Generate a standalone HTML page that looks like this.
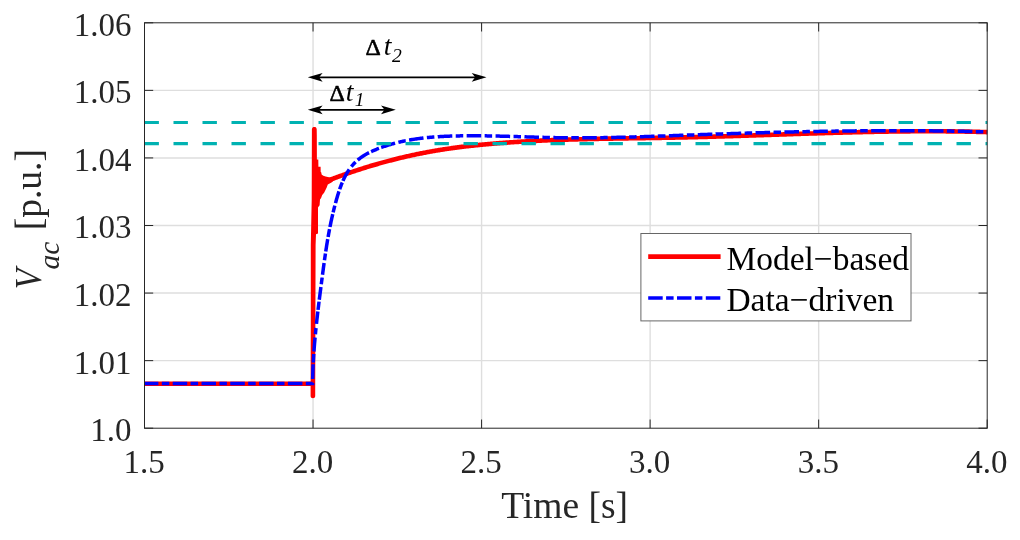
<!DOCTYPE html>
<html><head><meta charset="utf-8"><style>
html,body{margin:0;padding:0;background:#fff;}
body{width:1020px;height:540px;overflow:hidden;}
svg{display:block;}
text{font-family:"Liberation Serif","Times New Roman",serif;}
</style></head><body>
<svg width="1020" height="540" viewBox="0 0 1020 540">
<rect width="1020" height="540" fill="#fff"/>
<path d="M313.04,22.8V428.2M481.58,22.8V428.2M650.12,22.8V428.2M818.66,22.8V428.2M144.5,360.63H987.2M144.5,293.07H987.2M144.5,225.5H987.2M144.5,157.93H987.2M144.5,90.37H987.2" stroke="#dedede" stroke-width="1.4" fill="none"/>
<g fill="none" stroke-linejoin="round">
<path d="M144.5,383.7H313" stroke="#f00" stroke-width="4.6"/>
<path d="M311.9,129.3L312.08,128.38L312.6,127.6L313.38,127.08L314.3,126.9L315.22,127.08L316,127.6L316.52,128.38L316.7,129.3L316.8,135L316.9,159.4L318.3,159.5L318.4,166.7L320.6,166.8L320.7,172L321.3,172.4L321.6,174.6L323.3,175.7L325.6,176.4L330,177.6L334,177.9L334,180.3L331.5,182.4L327.8,184.6L326.7,187.6L325.6,189.8L324.1,192.7L322.2,195L321.1,197.9L320,199.4L319.6,205.3L318.5,206.8L318,207.6L318,233.5L316,234.2L315.6,245L315.4,315L315.2,396L315.2,396L315.02,396.88L314.53,397.63L313.78,398.12L312.9,398.3L312.02,398.12L311.27,397.63L310.78,396.88L310.6,396L310.6,396L310.8,315L310.8,245L311.7,200L311.9,129.3Z" fill="#f00" stroke="none"/>
<path d="M326.1,181.28L326.99,180.94L327.88,180.6L328.77,180.26L329.67,179.92L330.56,179.58L331.45,179.24L332.34,178.91L333.24,178.58L334.13,178.24L335.03,177.91L335.92,177.58L336.82,177.25L337.72,176.93L338.61,176.6L339.51,176.28L340.41,175.95L341.31,175.63L342.21,175.31L343.1,174.99L344,174.67L344.9,174.36L345.81,174.04L346.71,173.73L347.61,173.42L348.51,173.11L349.41,172.8L350.32,172.49L351.22,172.18L352.12,171.88L353.03,171.57L353.93,171.27L354.84,170.97L355.75,170.67L356.65,170.37L357.56,170.07L358.47,169.78L359.37,169.48L360.28,169.19L361.19,168.9L362.1,168.61L363.01,168.32L363.92,168.04L364.83,167.75L365.74,167.47L366.65,167.18L367.56,166.9L368.48,166.62L369.39,166.35L370.3,166.07L371.21,165.8L372.13,165.52L373.04,165.25L373.96,164.98L374.87,164.71L375.79,164.45L376.7,164.18L377.62,163.92L378.54,163.66L379.45,163.39L380.37,163.14L381.29,162.88L382.21,162.62L383.13,162.37L384.05,162.12L384.97,161.87L385.89,161.62L386.81,161.37L387.73,161.12L388.65,160.88L389.57,160.64L390.49,160.4L391.42,160.16L392.34,159.92L393.26,159.68L394.19,159.45L395.11,159.21L396.04,158.98L396.96,158.75L397.89,158.53L398.81,158.3L399.74,158.08L400.66,157.85L401.59,157.63L402.52,157.41L403.44,157.19L404.37,156.98L405.3,156.76L406.23,156.55L407.16,156.34L408.09,156.13L409.02,155.92L409.95,155.71L410.88,155.51L411.81,155.31L412.74,155.1L413.67,154.9L414.6,154.71L415.53,154.51L416.46,154.32L417.4,154.12L418.33,153.93L419.26,153.74L420.2,153.55L421.13,153.37L422.06,153.18L423,153L423.93,152.82L424.87,152.64L425.8,152.46L426.74,152.28L427.68,152.1L428.61,151.93L429.55,151.76L430.49,151.59L431.42,151.42L432.36,151.25L433.3,151.09L434.24,150.93L435.17,150.76L436.11,150.6L437.05,150.45L437.99,150.29L438.93,150.13L439.87,149.98L440.81,149.83L441.75,149.68L442.69,149.53L443.63,149.38L444.57,149.24L445.51,149.09L446.45,148.95L447.39,148.81L448.34,148.67L449.28,148.54L450.22,148.4L451.16,148.27L452.11,148.13L453.05,148L453.99,147.87L454.94,147.75L455.88,147.62L456.82,147.5L457.77,147.37L458.71,147.25L459.66,147.13L460.6,147.01L461.54,146.89L462.49,146.78L463.44,146.66L464.38,146.55L465.33,146.44L466.27,146.33L467.22,146.22L468.16,146.11L469.11,146L470.06,145.9L471,145.79L471.95,145.69L472.9,145.59L473.84,145.48L474.79,145.38L475.74,145.29L476.68,145.19L477.63,145.09L478.58,145L479.53,144.9L480.47,144.81L481.42,144.72L482.37,144.63L483.32,144.54L484.27,144.45L485.21,144.36L486.16,144.27L487.11,144.19L488.06,144.1L489.01,144.02L489.96,143.94L490.91,143.85L491.85,143.77L492.8,143.69L493.75,143.61L494.7,143.53L495.65,143.46L496.6,143.38L497.55,143.3L498.5,143.23L499.45,143.15L500.4,143.08L501.35,143.01L502.3,142.94L503.25,142.86L504.2,142.79L505.14,142.72L506.09,142.66L507.04,142.59L507.99,142.52L508.94,142.45L509.89,142.39L510.84,142.32L511.79,142.26L512.74,142.19L513.69,142.13L514.64,142.07L515.6,142.01L516.55,141.95L517.5,141.89L518.45,141.83L519.4,141.77L520.35,141.71L521.3,141.66L522.25,141.6L523.2,141.54L524.15,141.49L525.1,141.44L526.05,141.38L527,141.33L527.95,141.28L528.91,141.23L529.86,141.17L530.81,141.12L531.76,141.07L532.71,141.03L533.66,140.98L534.61,140.93L535.56,140.88L536.51,140.84L537.47,140.79L538.42,140.74L539.37,140.7L540.32,140.65L541.27,140.61L542.22,140.57L543.18,140.53L544.13,140.48L545.08,140.44L546.03,140.4L546.98,140.36L547.94,140.32L548.89,140.28L549.84,140.24L550.79,140.21L551.74,140.17L552.7,140.13L553.65,140.09L554.6,140.06L555.55,140.02L556.5,139.99L557.46,139.95L558.41,139.92L559.36,139.89L560.31,139.85L561.27,139.82L562.22,139.79L563.17,139.76L564.12,139.72L565.08,139.69L566.03,139.66L566.98,139.63L567.93,139.6L568.89,139.57L569.84,139.54L570.79,139.52L571.74,139.49L572.7,139.46L573.65,139.43L574.6,139.41L575.56,139.38L576.51,139.35L577.46,139.33L578.42,139.3L579.37,139.28L580.32,139.25L581.27,139.23L582.23,139.2L583.18,139.18L584.13,139.16L585.09,139.13L586.04,139.11L586.99,139.09L587.95,139.07L588.9,139.05L589.85,139.02L590.81,139L591.76,138.98L592.71,138.96L593.67,138.94L594.62,138.92L595.57,138.9L596.53,138.88L597.48,138.86L598.43,138.84L599.39,138.82L600.34,138.8L601.29,138.79L602.25,138.77L603.2,138.75L604.15,138.73L605.11,138.71L606.06,138.7L607.01,138.68L607.97,138.66L608.92,138.65L609.87,138.63L610.83,138.61L611.78,138.6L612.74,138.58L613.69,138.56L614.64,138.55L615.6,138.53L616.55,138.52L617.5,138.5L618.46,138.49L619.41,138.47L620.37,138.45L621.32,138.44L622.27,138.42L623.23,138.41L624.18,138.39L625.13,138.38L626.09,138.37L627.04,138.35L628,138.34L628.95,138.32L629.9,138.31L630.86,138.29L631.81,138.28L632.76,138.26L633.72,138.25L634.67,138.24L635.63,138.22L636.58,138.21L637.53,138.19L638.49,138.18L639.44,138.17L640.39,138.15L641.35,138.14L642.3,138.12L643.26,138.11L644.21,138.09L645.16,138.08L646.12,138.07L647.07,138.05L648.02,138.04L648.98,138.02L649.93,138.01L650.89,137.99L651.84,137.98L652.79,137.96L653.75,137.95L654.7,137.93L655.65,137.92L656.61,137.9L657.56,137.89L658.51,137.87L659.47,137.86L660.42,137.84L661.38,137.83L662.33,137.81L663.28,137.79L664.24,137.78L665.19,137.76L666.14,137.75L667.1,137.73L668.05,137.71L669,137.69L669.96,137.68L670.91,137.66L671.86,137.64L672.82,137.62L673.77,137.61L674.72,137.59L675.68,137.57L676.63,137.55L677.58,137.53L678.54,137.51L679.49,137.49L680.44,137.47L681.4,137.45L682.35,137.43L683.3,137.41L684.26,137.39L685.21,137.37L686.16,137.35L687.12,137.33L688.07,137.31L689.02,137.29L689.98,137.27L690.93,137.24L691.88,137.22L692.84,137.2L693.79,137.17L694.74,137.15L695.7,137.13L696.65,137.11L697.6,137.08L698.55,137.06L699.51,137.03L700.46,137.01L701.41,136.98L702.37,136.96L703.32,136.94L704.27,136.91L705.22,136.88L706.18,136.86L707.13,136.83L708.08,136.81L709.04,136.78L709.99,136.76L710.94,136.73L711.89,136.7L712.85,136.68L713.8,136.65L714.75,136.62L715.7,136.6L716.66,136.57L717.61,136.54L718.56,136.51L719.52,136.49L720.47,136.46L721.42,136.43L722.37,136.4L723.33,136.37L724.28,136.35L725.23,136.32L726.18,136.29L727.14,136.26L728.09,136.23L729.04,136.2L729.99,136.17L730.95,136.14L731.9,136.11L732.85,136.08L733.8,136.05L734.76,136.02L735.71,135.99L736.66,135.96L737.61,135.93L738.57,135.9L739.52,135.87L740.47,135.84L741.42,135.81L742.37,135.78L743.33,135.75L744.28,135.72L745.23,135.69L746.18,135.66L747.14,135.63L748.09,135.6L749.04,135.57L749.99,135.54L750.95,135.5L751.9,135.47L752.85,135.44L753.8,135.41L754.75,135.38L755.71,135.35L756.66,135.32L757.61,135.28L758.56,135.25L759.52,135.22L760.47,135.19L761.42,135.16L762.37,135.13L763.32,135.09L764.28,135.06L765.23,135.03L766.18,135L767.13,134.97L768.09,134.93L769.04,134.9L769.99,134.87L770.94,134.84L771.89,134.81L772.85,134.77L773.8,134.74L774.75,134.71L775.7,134.68L776.65,134.65L777.61,134.61L778.56,134.58L779.51,134.55L780.46,134.52L781.41,134.49L782.37,134.45L783.32,134.42L784.27,134.39L785.22,134.36L786.17,134.33L787.13,134.29L788.08,134.26L789.03,134.23L789.98,134.2L790.94,134.17L791.89,134.13L792.84,134.1L793.79,134.07L794.74,134.04L795.7,134.01L796.65,133.98L797.6,133.95L798.55,133.91L799.5,133.88L800.46,133.85L801.41,133.82L802.36,133.79L803.31,133.76L804.26,133.73L805.22,133.7L806.17,133.67L807.12,133.63L808.07,133.6L809.02,133.57L809.98,133.54L810.93,133.51L811.88,133.48L812.83,133.45L813.78,133.42L814.74,133.39L815.69,133.36L816.64,133.33L817.59,133.3L818.54,133.27L819.5,133.24L820.45,133.21L821.4,133.19L822.35,133.16L823.3,133.13L824.26,133.1L825.21,133.07L826.16,133.04L827.11,133.01L828.06,132.98L829.02,132.96L829.97,132.93L830.92,132.9L831.87,132.87L832.83,132.84L833.78,132.82L834.73,132.79L835.68,132.76L836.63,132.74L837.59,132.71L838.54,132.68L839.49,132.66L840.44,132.63L841.39,132.6L842.35,132.58L843.3,132.55L844.25,132.53L845.2,132.5L846.15,132.48L847.11,132.45L848.06,132.43L849.01,132.4L849.96,132.38L850.92,132.35L851.87,132.33L852.82,132.3L853.77,132.28L854.72,132.26L855.68,132.23L856.63,132.21L857.58,132.19L858.53,132.16L859.49,132.14L860.44,132.12L861.39,132.1L862.34,132.08L863.3,132.05L864.25,132.03L865.2,132.01L866.15,131.99L867.1,131.97L868.06,131.95L869.01,131.93L869.96,131.91L870.91,131.89L871.87,131.87L872.82,131.85L873.77,131.83L874.72,131.81L875.68,131.8L876.63,131.78L877.58,131.76L878.53,131.74L879.49,131.73L880.44,131.71L881.39,131.69L882.34,131.67L883.3,131.66L884.25,131.64L885.2,131.63L886.15,131.61L887.11,131.6L888.06,131.58L889.01,131.57L889.96,131.55L890.92,131.54L891.87,131.53L892.82,131.51L893.77,131.5L894.73,131.49L895.68,131.47L896.63,131.46L897.59,131.45L898.54,131.44L899.49,131.43L900.44,131.42L901.4,131.41L902.35,131.4L903.3,131.39L904.26,131.38L905.21,131.37L906.16,131.36L907.11,131.35L908.07,131.34L909.02,131.34L909.97,131.33L910.93,131.32L911.88,131.31L912.83,131.31L913.78,131.3L914.74,131.3L915.69,131.29L916.64,131.29L917.6,131.28L918.55,131.28L919.5,131.27L920.46,131.27L921.41,131.27L922.36,131.27L923.32,131.26L924.27,131.26L925.22,131.26L926.18,131.26L927.13,131.26L928.08,131.26L929.04,131.26L929.99,131.26L930.94,131.26L931.9,131.26L932.85,131.26L933.8,131.26L934.76,131.27L935.71,131.27L936.66,131.27L937.62,131.28L938.57,131.28L939.52,131.29L940.48,131.29L941.43,131.3L942.38,131.3L943.34,131.31L944.29,131.32L945.25,131.32L946.2,131.33L947.15,131.34L948.11,131.35L949.06,131.36L950.01,131.37L950.97,131.38L951.92,131.39L952.88,131.4L953.83,131.41L954.78,131.42L955.74,131.43L956.69,131.45L957.64,131.46L958.6,131.47L959.55,131.49L960.51,131.5L961.46,131.52L962.42,131.53L963.37,131.55L964.32,131.57L965.28,131.58L966.23,131.6L967.19,131.62L968.14,131.64L969.09,131.66L970.05,131.68L971,131.7L971.96,131.72L972.91,131.74L973.87,131.76L974.82,131.78L975.78,131.8L976.73,131.83L977.68,131.85L978.64,131.88L979.59,131.9L980.55,131.93L981.5,131.95L982.46,131.98L983.41,132.01L984.37,132.03L985.32,132.06L986.28,132.09L987.23,132.12" stroke="#f00" stroke-width="4.6"/>
<path d="M144.5,383.5L158.4,383.5M161.8,383.5L169.3,383.5M172.7,383.5L187.2,383.5M190.6,383.5L198.1,383.5M201.5,383.5L216,383.5M219.4,383.5L226.9,383.5M230.3,383.5L244.8,383.5M248.2,383.5L255.7,383.5M259.1,383.5L273.6,383.5M277,383.5L284.5,383.5M287.9,383.5L302.4,383.5M305.8,383.5L312.6,383.5L312.6,382.8M312.66,379L312.67,378.44L312.69,377.72L312.7,377L312.72,376.29L312.74,375.57L312.76,374.85L312.78,374.13L312.8,373.41L312.82,372.69L312.84,371.97L312.87,371.25L312.9,370.54L312.92,369.82L312.95,369.1L312.98,368.38L313.01,367.66L313.04,366.94L313.07,366.22L313.11,365.5L313.14,364.78L313.16,364.3M313.26,362.5L313.29,361.9L313.33,361.18L313.37,360.46L313.41,359.74L313.45,359.02L313.49,358.3L313.54,357.58L313.58,356.86L313.63,356.14L313.67,355.42L313.72,354.7L313.77,354M313.94,351.5L313.97,351.1L314.02,350.38L314.07,349.66L314.13,348.94L314.18,348.22L314.24,347.5L314.3,346.78L314.35,346.06L314.41,345.33L314.47,344.61L314.53,343.89L314.59,343.17L314.65,342.45L314.71,341.73L314.77,341.01L314.84,340.29L314.9,339.57L314.97,338.85L315.03,338.13L315.09,337.5M315.4,334.2L315.44,333.81L315.51,333.09L315.58,332.36L315.65,331.64L315.72,330.92L315.79,330.2L315.86,329.48L315.94,328.76L316.01,328.04L316.02,328M316.45,323.9L316.47,323.72L316.55,323L316.62,322.28L316.7,321.56L316.78,320.84L316.86,320.12L316.94,319.4L317.02,318.68L317.1,317.96L317.19,317.24L317.27,316.52L317.35,315.8L317.43,315.08L317.52,314.36L317.6,313.64L317.68,312.92L317.77,312.2L317.85,311.5M318.04,309.9L318.11,309.33L318.2,308.61L318.28,307.89L318.37,307.17L318.46,306.45L318.55,305.73L318.63,305.02L318.72,304.3L318.81,303.58L318.9,302.86L318.99,302.14L319.06,301.6M319.28,299.8L319.35,299.27L319.44,298.55L319.53,297.83L319.62,297.12L319.71,296.4L319.8,295.68L319.89,294.97L319.98,294.25L320.07,293.53L320.17,292.81L320.26,292.1L320.35,291.38L320.44,290.66L320.53,289.95L320.63,289.23L320.72,288.52L320.81,287.8L320.91,287.08L320.92,287M321.28,284.2L321.37,283.51L321.46,282.79L321.56,282.08L321.65,281.36L321.74,280.65L321.84,279.93L321.93,279.22L322.02,278.5L322.12,277.79L322.15,277.5M322.52,274.7L322.58,274.22L322.68,273.51L322.77,272.79L322.87,272.08L322.96,271.37L323.06,270.66L323.15,269.94L323.25,269.23L323.34,268.52L323.44,267.81L323.53,267.09L323.63,266.38L323.73,265.67L323.82,264.96L323.92,264.25L324.02,263.53L324.09,263M324.47,260.3L324.51,259.98L324.61,259.27L324.72,258.56L324.82,257.85L324.92,257.13L325.02,256.42L325.12,255.71L325.23,255L325.33,254.29L325.43,253.6M325.76,251.4L325.86,250.74L325.97,250.03L326.08,249.32L326.19,248.61L326.3,247.91L326.41,247.2L326.52,246.49L326.63,245.78L326.75,245.07L326.86,244.36L326.98,243.65L327.09,242.94L327.21,242.23L327.33,241.52L327.44,240.82L327.56,240.11L327.68,239.4L327.74,239.1M328.1,237L328.18,236.57L328.3,235.86L328.43,235.15L328.55,234.44L328.68,233.73L328.81,233.03L328.94,232.32L329.07,231.61L329.21,230.9L329.34,230.2L329.48,229.49L329.55,229.1M329.96,227L330.03,226.66L330.17,225.95L330.31,225.24L330.46,224.54L330.6,223.83L330.75,223.12L330.89,222.41L331.04,221.71L331.19,221L331.35,220.29L331.5,219.59L331.65,218.88L331.81,218.17L331.97,217.47L332.13,216.76L332.29,216.05L332.45,215.35L332.61,214.64L332.74,214.1M333.14,212.4L333.28,211.81L333.45,211.11L333.62,210.4L333.8,209.69L333.97,208.99L334.15,208.28L334.33,207.57L334.51,206.87L334.69,206.16L334.84,205.6M335.5,203.1L335.63,202.63L335.83,201.92L336.02,201.21L336.22,200.51L336.42,199.8L336.62,199.1L336.82,198.39L337.02,197.68L337.23,196.98L337.44,196.27L337.65,195.57L337.86,194.86L338.08,194.16L338.3,193.46L338.52,192.75L338.75,192.05L338.96,191.4M339.67,189.3L339.68,189.27L339.92,188.57L340.16,187.88L340.41,187.19L340.67,186.51L340.92,185.82L341.18,185.14L341.45,184.46L341.72,183.78L341.99,183.11L342.25,182.5M342.94,180.9L343.14,180.45L343.44,179.79L343.74,179.13L344.05,178.48L344.36,177.84L344.68,177.19L345.01,176.55L345.34,175.92L345.68,175.29L346.02,174.66L346.37,174.04L346.73,173.43L347.09,172.81L347.46,172.21L347.83,171.61L348.21,171.01L348.6,170.42L349,169.83L349.3,169.4M351.34,166.67L351.53,166.44L351.97,165.89L352.43,165.36L352.89,164.82L353.37,164.3L353.85,163.78L354.33,163.27L354.83,162.77L355.33,162.27L355.55,162.06M357.74,160.09L357.96,159.89L358.51,159.44L359.06,158.99L359.63,158.55L360.19,158.11L360.77,157.69L361.35,157.27L361.93,156.86L362.53,156.45L363.12,156.06L363.73,155.67L364.34,155.29L364.95,154.91L365.58,154.55L366.2,154.19L366.83,153.84L367.47,153.49L368.11,153.15L368.75,152.82L369.02,152.69M371.09,151.68L371.36,151.56L372.02,151.25L372.69,150.96L373.35,150.66L374.02,150.37L374.68,150.09L375.35,149.81L376.02,149.53L376.69,149.25L377.36,148.98L378.03,148.72L378.71,148.45L378.99,148.35M381.2,147.51L381.41,147.44L382.09,147.19L382.77,146.95L383.44,146.71L384.13,146.47L384.81,146.24L385.49,146.01L386.17,145.79L386.86,145.57L387.54,145.35L388.23,145.13L388.92,144.92L389.6,144.71L390.29,144.51L390.98,144.3L391.67,144.11L392.36,143.91L393.05,143.72L393.75,143.53L394.44,143.34L395.08,143.17M398.4,142.33L398.61,142.28L399.31,142.11L400.01,141.95L400.71,141.79L401.41,141.63L402.11,141.48L402.82,141.33L403.52,141.18L404.22,141.03L404.93,140.89L405.63,140.74L405.72,140.73M409.09,140.09L409.16,140.08L409.87,139.95L410.58,139.83L411.29,139.71L412,139.59L412.71,139.47L413.42,139.36L414.13,139.24L414.84,139.14L415.55,139.03L416.27,138.92L416.98,138.82L417.69,138.72L418.41,138.62L419.12,138.53L419.84,138.43L420.55,138.34L421.27,138.25L421.98,138.17L422.7,138.08L423.42,138L423.49,137.99M426.89,137.62L427.01,137.61L427.73,137.54L428.45,137.47L429.17,137.4L429.89,137.34L430.61,137.27L431.33,137.21L432.05,137.15L432.77,137.09L433.49,137.03L434.22,136.98L434.36,136.97M437.78,136.73L437.83,136.72L438.55,136.68L439.27,136.63L440,136.59L440.72,136.55L441.45,136.51L442.17,136.47L442.89,136.43L443.62,136.39L444.34,136.36L445.07,136.33L445.79,136.29L446.52,136.26L447.24,136.23L447.97,136.2L448.69,136.18L449.42,136.15L450.14,136.12L450.87,136.1L451.59,136.08L452.31,136.06M455.73,135.96L455.94,135.96L456.67,135.94L457.39,135.93L458.12,135.91L458.84,135.9L459.57,135.89L460.29,135.87L461.02,135.86L461.74,135.85L462.47,135.84L463.19,135.83L463.23,135.83M466.66,135.8L466.81,135.8L467.54,135.79L468.26,135.79L468.98,135.78L469.71,135.78L470.43,135.78L471.15,135.78L471.88,135.77L472.6,135.77L473.33,135.77L474.05,135.78L474.77,135.78L475.5,135.78L476.22,135.78L476.94,135.78L477.66,135.79L478.39,135.79L479.11,135.8L479.83,135.8L480.56,135.81L481.21,135.81M484.63,135.85L484.89,135.85L485.61,135.86L486.34,135.87L487.06,135.88L487.78,135.89L488.5,135.91L489.23,135.92L489.95,135.93L490.67,135.94L491.39,135.95L492.11,135.97L492.13,135.97M495.56,136.04L495.72,136.04L496.45,136.06L497.17,136.07L497.89,136.09L498.61,136.1L499.33,136.12L500.05,136.14L500.78,136.15L501.5,136.17L502.22,136.19L502.94,136.21L503.66,136.23L504.38,136.24L505.1,136.26L505.82,136.28L506.55,136.3L507.27,136.32L507.99,136.34L508.71,136.36L509.43,136.38L510.11,136.4M513.52,136.5L513.76,136.5L514.48,136.52L515.2,136.55L515.92,136.57L516.64,136.59L517.36,136.61L518.08,136.63L518.8,136.65L519.52,136.67L520.24,136.7L520.96,136.72L521.02,136.72M524.45,136.82L524.57,136.83L525.29,136.85L526.01,136.87L526.73,136.89L527.45,136.91L528.17,136.93L528.89,136.96L529.61,136.98L530.33,137L531.05,137.02L531.77,137.04L532.49,137.06L533.21,137.08L533.94,137.1L534.66,137.13L535.38,137.15L536.1,137.17L536.82,137.19L537.54,137.21L538.26,137.23L538.98,137.25L538.99,137.25M542.41,137.34L542.58,137.34L543.3,137.36L544.02,137.38L544.74,137.4L545.46,137.42L546.18,137.43L546.9,137.45L547.63,137.47L548.35,137.48L549.07,137.5L549.79,137.52L549.91,137.52M553.34,137.59L553.39,137.59L554.11,137.61L554.83,137.62L555.55,137.63L556.27,137.64L556.99,137.66L557.71,137.67L558.43,137.68L559.16,137.69L559.88,137.7L560.6,137.71L561.32,137.72L562.04,137.73L562.76,137.74L563.48,137.75L564.2,137.76L564.92,137.77L565.64,137.77L566.36,137.78L567.09,137.79L567.81,137.79L567.89,137.79M571.31,137.82L571.41,137.82L572.13,137.82L572.85,137.82L573.58,137.83L574.3,137.83L575.02,137.83L575.74,137.83L576.46,137.83L577.18,137.83L577.9,137.83L578.62,137.83L578.81,137.83M582.24,137.83L582.95,137.83L583.67,137.82L584.4,137.82L585.12,137.82L585.84,137.81L586.56,137.81L587.28,137.81L588,137.8L588.72,137.8L589.45,137.79L590.17,137.78L590.89,137.78L591.61,137.77L592.33,137.77L593.05,137.76L593.78,137.75L594.5,137.74L595.22,137.74L595.94,137.73L596.66,137.72L596.79,137.72M600.21,137.67L600.27,137.67L600.99,137.66L601.71,137.65L602.44,137.64L603.16,137.63L603.88,137.62L604.6,137.61L605.32,137.59L606.05,137.58L606.77,137.57L607.49,137.56L607.71,137.55M611.13,137.49L611.82,137.47L612.54,137.46L613.26,137.44L613.99,137.43L614.71,137.41L615.43,137.4L616.15,137.38L616.87,137.36L617.6,137.35L618.32,137.33L619.04,137.31L619.76,137.3L620.48,137.28L621.21,137.26L621.93,137.25L622.65,137.23L623.37,137.21L624.09,137.19L624.82,137.17L625.54,137.15L625.68,137.15M629.1,137.06L629.15,137.06L629.87,137.04L630.59,137.02L631.32,137L632.04,136.98L632.76,136.96L633.48,136.93L634.2,136.91L634.93,136.89L635.65,136.87L636.37,136.85L636.6,136.84M640.03,136.74L640.7,136.72L641.43,136.7L642.15,136.67L642.87,136.65L643.59,136.63L644.32,136.6L645.04,136.58L645.76,136.56L646.48,136.53L647.2,136.51L647.93,136.49L648.65,136.46L649.37,136.44L650.09,136.41L650.82,136.39L651.54,136.37L652.26,136.34L652.98,136.32L653.7,136.29L654.43,136.27L654.57,136.26M657.99,136.15L658.04,136.14L658.76,136.12L659.48,136.09L660.2,136.07L660.93,136.04L661.65,136.02L662.37,135.99L663.09,135.97L663.82,135.94L664.54,135.92L665.26,135.89L665.48,135.88M668.91,135.76L669.59,135.73L670.32,135.71L671.04,135.68L671.76,135.66L672.48,135.63L673.2,135.6L673.93,135.58L674.65,135.55L675.37,135.53L676.09,135.5L676.82,135.47L677.54,135.45L678.26,135.42L678.98,135.4L679.7,135.37L680.43,135.34L681.15,135.32L681.87,135.29L682.59,135.26L683.32,135.24L683.45,135.23M686.87,135.11L686.93,135.11L687.65,135.08L688.37,135.06L689.09,135.03L689.81,135L690.54,134.98L691.26,134.95L691.98,134.93L692.7,134.9L693.42,134.88L694.15,134.85L694.36,134.84M697.79,134.72L698.48,134.7L699.2,134.67L699.92,134.65L700.64,134.62L701.37,134.6L702.09,134.57L702.81,134.55L703.53,134.52L704.25,134.5L704.98,134.47L705.7,134.45L706.42,134.42L707.14,134.4L707.86,134.37L708.59,134.35L709.31,134.32L710.03,134.3L710.75,134.27L711.47,134.25L712.2,134.22L712.33,134.22M715.75,134.11L715.8,134.1L716.53,134.08L717.25,134.06L717.97,134.03L718.69,134.01L719.41,133.98L720.14,133.96L720.86,133.94L721.58,133.91L722.3,133.89L723.02,133.87L723.25,133.86M726.67,133.75L727.35,133.72L728.08,133.7L728.8,133.68L729.52,133.66L730.24,133.63L730.96,133.61L731.68,133.59L732.41,133.56L733.13,133.54L733.85,133.52L734.57,133.5L735.29,133.47L736.01,133.45L736.74,133.43L737.46,133.41L738.18,133.38L738.9,133.36L739.62,133.34L740.34,133.32L741.07,133.3L741.22,133.29M744.63,133.19L744.68,133.19L745.4,133.16L746.12,133.14L746.84,133.12L747.56,133.1L748.28,133.08L749.01,133.06L749.73,133.04L750.45,133.02L751.17,132.99L751.89,132.97L752.13,132.97M755.56,132.87L756.22,132.85L756.94,132.83L757.66,132.81L758.39,132.79L759.11,132.77L759.83,132.75L760.55,132.73L761.27,132.71L761.99,132.69L762.72,132.67L763.44,132.65L764.16,132.63L764.88,132.61L765.6,132.59L766.32,132.57L767.05,132.55L767.77,132.53L768.49,132.51L769.21,132.49L769.93,132.47L770.1,132.47M773.52,132.38L773.54,132.38L774.26,132.36L774.98,132.34L775.7,132.32L776.43,132.31L777.15,132.29L777.87,132.27L778.59,132.25L779.31,132.23L780.03,132.21L780.75,132.2L781.02,132.19M784.45,132.11L785.08,132.09L785.81,132.07L786.53,132.06L787.25,132.04L787.97,132.02L788.69,132.01L789.41,131.99L790.13,131.97L790.86,131.96L791.58,131.94L792.3,131.92L793.02,131.91L793.74,131.89L794.46,131.87L795.19,131.86L795.91,131.84L796.63,131.83L797.35,131.81L798.07,131.8L798.79,131.78L799,131.78M802.42,131.7L803.12,131.69L803.84,131.67L804.56,131.66L805.29,131.64L806.01,131.63L806.73,131.61L807.45,131.6L808.17,131.59L808.89,131.57L809.62,131.56L809.91,131.55M813.34,131.49L813.94,131.47L814.67,131.46L815.39,131.45L816.11,131.43L816.83,131.42L817.55,131.41L818.27,131.39L819,131.38L819.72,131.37L820.44,131.36L821.16,131.34L821.88,131.33L822.6,131.32L823.32,131.31L824.05,131.3L824.77,131.28L825.49,131.27L826.21,131.26L826.93,131.25L827.65,131.24L827.89,131.23M831.31,131.18L831.98,131.17L832.7,131.16L833.43,131.15L834.15,131.14L834.87,131.13L835.59,131.12L836.31,131.11L837.03,131.1L837.76,131.09L838.48,131.08L838.81,131.07M842.24,131.03L842.81,131.02L843.53,131.01L844.25,131L844.97,130.99L845.69,130.98L846.41,130.97L847.14,130.97L847.86,130.96L848.58,130.95L849.3,130.94L850.02,130.93L850.74,130.92L851.47,130.92L852.19,130.91L852.91,130.9L853.63,130.89L854.35,130.89L855.07,130.88L855.79,130.87L856.52,130.87L856.79,130.86M860.21,130.83L860.85,130.83L861.57,130.82L862.29,130.81L863.01,130.81L863.73,130.8L864.45,130.8L865.18,130.79L865.9,130.79L866.62,130.78L867.34,130.77L867.71,130.77M871.14,130.75L871.67,130.75L872.39,130.74L873.11,130.74L873.84,130.73L874.56,130.73L875.28,130.73L876,130.72L876.72,130.72L877.44,130.72L878.17,130.71L878.89,130.71L879.61,130.71L880.33,130.7L881.05,130.7L881.78,130.7L882.5,130.7L883.22,130.69L883.94,130.69L884.66,130.69L885.38,130.69L885.69,130.69M889.11,130.68L889.72,130.68L890.44,130.68L891.16,130.68L891.88,130.68L892.6,130.68L893.32,130.68L894.05,130.68L894.77,130.68L895.49,130.68L896.21,130.68L896.61,130.68M900.04,130.68L900.54,130.68L901.26,130.68L901.99,130.68L902.71,130.68L903.43,130.69L904.15,130.69L904.87,130.69L905.6,130.69L906.32,130.69L907.04,130.7L907.76,130.7L908.48,130.7L909.21,130.7L909.93,130.71L910.65,130.71L911.37,130.71L912.09,130.72L912.82,130.72L913.54,130.72L914.26,130.73L914.59,130.73M918.01,130.75L918.59,130.75L919.31,130.76L920.04,130.76L920.76,130.77L921.48,130.77L922.2,130.78L922.93,130.78L923.65,130.79L924.37,130.79L925.09,130.8L925.51,130.8M928.94,130.84L929.42,130.84L930.15,130.85L930.87,130.85L931.59,130.86L932.31,130.87L933.04,130.88L933.76,130.89L934.48,130.89L935.2,130.9L935.92,130.91L936.65,130.92L937.37,130.93L938.09,130.94L938.81,130.94L939.54,130.95L940.26,130.96L940.98,130.97L941.7,130.98L942.43,130.99L943.15,131L943.49,131.01M946.91,131.06L947.48,131.07L948.2,131.08L948.93,131.09L949.65,131.1L950.37,131.11L951.09,131.12L951.82,131.13L952.54,131.15L953.26,131.16L953.98,131.17L954.41,131.18M957.83,131.24L958.32,131.25L959.04,131.26L959.76,131.28L960.49,131.29L961.21,131.31L961.93,131.32L962.65,131.33L963.38,131.35L964.1,131.36L964.82,131.38L965.54,131.39L966.27,131.41L966.99,131.42L967.71,131.44L968.43,131.46L969.16,131.47L969.88,131.49L970.6,131.5L971.33,131.52L972.05,131.54L972.38,131.55M975.8,131.63L976.38,131.64L977.11,131.66L977.83,131.68L978.55,131.7L979.28,131.71L980,131.73L980.72,131.75L981.44,131.77L982.17,131.79L982.89,131.81L983.3,131.82M986.73,131.92L987.23,131.93" stroke="#00f" stroke-width="3.5" stroke-linejoin="miter"/>
<path d="M144.5,122.55H987.2M144.5,143.65H987.2" stroke="#00b2b2" stroke-width="3.1" stroke-dasharray="14.4 14.6"/>
</g>
<g stroke="#262626" stroke-width="1" fill="none">
<path d="M144.5,428.2V419.5M144.5,22.8V31.5M313.04,428.2V419.5M313.04,22.8V31.5M481.58,428.2V419.5M481.58,22.8V31.5M650.12,428.2V419.5M650.12,22.8V31.5M818.66,428.2V419.5M818.66,22.8V31.5M987.2,428.2V419.5M987.2,22.8V31.5M144.5,428.2H153.2M987.2,428.2H978.5M144.5,360.63H153.2M987.2,360.63H978.5M144.5,293.07H153.2M987.2,293.07H978.5M144.5,225.5H153.2M987.2,225.5H978.5M144.5,157.93H153.2M987.2,157.93H978.5M144.5,90.37H153.2M987.2,90.37H978.5M144.5,22.8H153.2M987.2,22.8H978.5"/>
<rect x="144.5" y="22.8" width="842.7" height="405.4"/>
</g>
<path d="M316.8,77.3H477.5" stroke="#000" stroke-width="1.7" fill="none"/><path d="M307.8,77.3L322.6,72.9L319.1,77.3L322.6,81.7ZM486.5,77.3L471.7,72.9L475.2,77.3L471.7,81.7Z" fill="#000"/><path d="M316.8,109.8H386.8" stroke="#000" stroke-width="1.7" fill="none"/><path d="M307.8,109.8L322.6,105.4L319.1,109.8L322.6,114.2ZM395.8,109.8L381,105.4L384.5,109.8L381,114.2Z" fill="#000"/>
<g font-size="34.2" fill="#262626"><text transform="translate(131.5,441.1) scale(0.965,1)" text-anchor="end">1.0</text><text transform="translate(131.5,373.53) scale(0.965,1)" text-anchor="end">1.01</text><text transform="translate(131.5,305.97) scale(0.965,1)" text-anchor="end">1.02</text><text transform="translate(131.5,238.4) scale(0.965,1)" text-anchor="end">1.03</text><text transform="translate(131.5,170.83) scale(0.965,1)" text-anchor="end">1.04</text><text transform="translate(131.5,103.27) scale(0.965,1)" text-anchor="end">1.05</text><text transform="translate(131.5,35.7) scale(0.965,1)" text-anchor="end">1.06</text><text transform="translate(144.1,472.8) scale(0.965,1)" text-anchor="middle">1.5</text><text transform="translate(312.64,472.8) scale(0.965,1)" text-anchor="middle">2.0</text><text transform="translate(481.18,472.8) scale(0.965,1)" text-anchor="middle">2.5</text><text transform="translate(649.72,472.8) scale(0.965,1)" text-anchor="middle">3.0</text><text transform="translate(818.26,472.8) scale(0.965,1)" text-anchor="middle">3.5</text><text transform="translate(986.8,472.8) scale(0.965,1)" text-anchor="middle">4.0</text></g>
<text x="564.6" y="517.6" font-size="37.5" fill="#262626" text-anchor="middle">Time [s]</text>
<g fill="#262626" font-size="37.5">
<text transform="rotate(-90) translate(-289.3,41) scale(0.9,1)" font-style="italic">V</text>
<text transform="rotate(-90)" x="-269.6" y="59.1" font-style="italic" font-size="29.5">ac</text>
<text transform="rotate(-90)" x="-230.3" y="41">[p.u.]</text>
</g>
<g fill="#000">
<text y="54.9"><tspan x="365.4" font-size="23.8" stroke="#000" stroke-width="0.55">&#916;</tspan><tspan x="383.7" font-size="27.6" font-style="italic">t</tspan><tspan x="392" y="61.5" font-size="19.6" font-style="italic">2</tspan></text>
<text y="100.5"><tspan x="329.5" font-size="23.8" stroke="#000" stroke-width="0.55">&#916;</tspan><tspan x="345.8" font-size="27.6" font-style="italic">t</tspan><tspan x="354.7" y="105.6" font-size="19.3" font-style="italic">1</tspan></text>
</g>
<rect x="640.9" y="233.5" width="270.1" height="87.4" fill="#fff" stroke="#666" stroke-width="1"/>
<path d="M648.2,256.6H720.6" stroke="#f00" stroke-width="4.6"/>
<path d="M648.2,297.9H720.6" stroke="#00f" stroke-width="3.5" stroke-dasharray="14.5 3.4 7.5 3.4"/>
<g font-size="33.5" fill="#000">
<text x="726.4" y="269.7">Model&#8722;based</text>
<text x="726.4" y="311">Data&#8722;driven</text>
</g>
</svg>
</body></html>
